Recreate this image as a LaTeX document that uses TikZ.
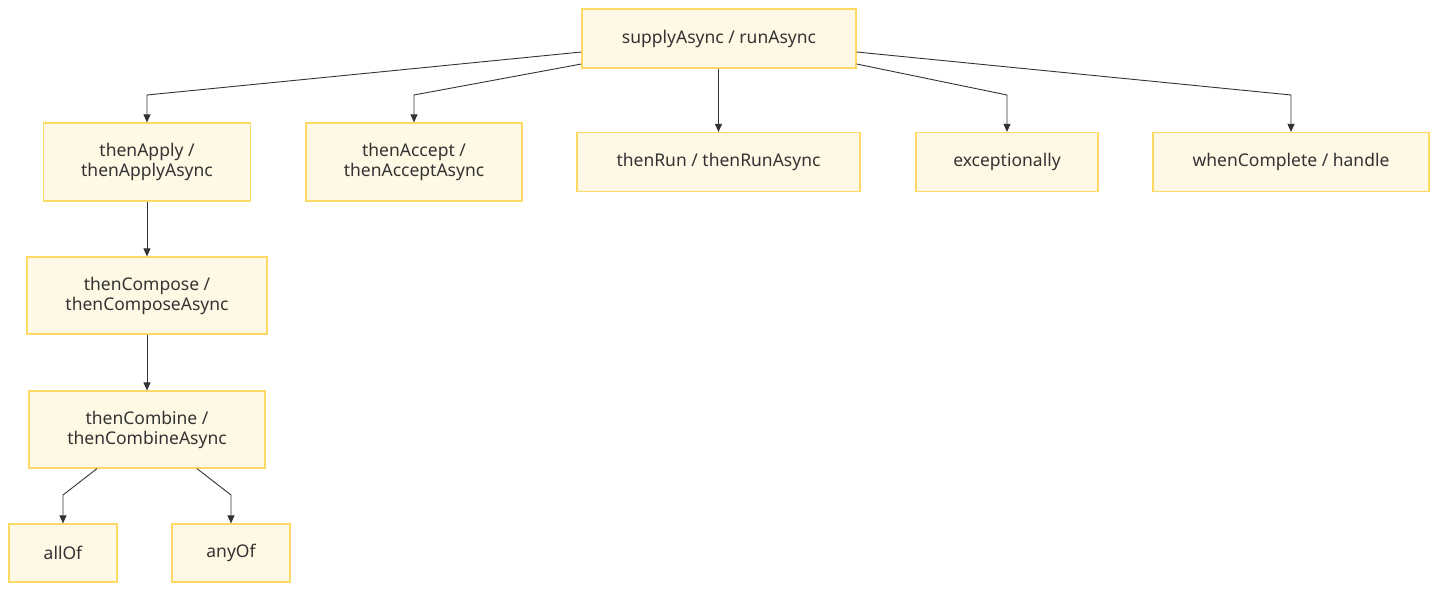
\documentclass[tikz,border=0pt]{standalone}
\usepackage{fontspec}
\setmainfont{Noto Sans}
\usetikzlibrary{arrows.meta}
\definecolor{boxfill}{HTML}{FFF8E5}
\definecolor{boxline}{HTML}{FFD966}
\definecolor{edge}{HTML}{333333}
\begin{document}
\begin{tikzpicture}[x=1pt,y=-1pt,
  box/.style={draw=boxline,fill=boxfill,line width=1.2pt,inner sep=0pt,
    align=center,font=\fontsize{17.5}{20}\selectfont,text=edge},
  link/.style={draw=edge,line width=0.9pt,-{Triangle[length=8pt,width=7pt]}}]
\useasboundingbox (0,0) rectangle (1438,592);
\node[box,minimum width=274pt,minimum height=59pt] (top) at (719,38.5) {supplyAsync / runAsync};
\node[box,minimum width=207pt,minimum height=78pt] (apply) at (147,162) {thenApply /\\thenApplyAsync};
\node[box,minimum width=216pt,minimum height=78pt] (accept) at (414,162) {thenAccept /\\thenAcceptAsync};
\node[box,minimum width=283pt,minimum height=59pt] (run) at (718.5,162) {thenRun / thenRunAsync};
\node[box,minimum width=182pt,minimum height=59pt] (exc) at (1007,162) {exceptionally};
\node[box,minimum width=276pt,minimum height=59pt] (when) at (1291,162) {whenComplete / handle};
\node[box,minimum width=240pt,minimum height=77pt] (compose) at (147,295.5) {thenCompose /\\thenComposeAsync};
\node[box,minimum width=236pt,minimum height=77pt] (combine) at (147,429.5) {thenCombine /\\thenCombineAsync};
\node[box,minimum width=108pt,minimum height=58pt] (allof) at (63,553) {allOf};
\node[box,minimum width=118pt,minimum height=58pt] (anyof) at (231,553) {anyOf};
\coordinate (ya) at (0,95);
\coordinate (yb) at (0,495);
\draw[link] ([yshift=-13.5pt]top.west) -- (apply.north |- ya) -- (apply.north);
\draw[link] ([yshift=-25.5pt]top.west) -- (accept.north |- ya) -- (accept.north);
\draw[link] (top.south -| run.north) -- (run.north);
\draw[link] ([yshift=-25.5pt]top.east) -- (exc.north |- ya) -- (exc.north);
\draw[link] ([yshift=-13.5pt]top.east) -- (when.north |- ya) -- (when.north);
\draw[link] (apply.south) -- (compose.north);
\draw[link] (compose.south) -- (combine.north);
\draw[link] ([xshift=-50pt]combine.south) -- (allof.north |- yb) -- (allof.north);
\draw[link] ([xshift=50pt]combine.south) -- (anyof.north |- yb) -- (anyof.north);
\end{tikzpicture}
\end{document}
